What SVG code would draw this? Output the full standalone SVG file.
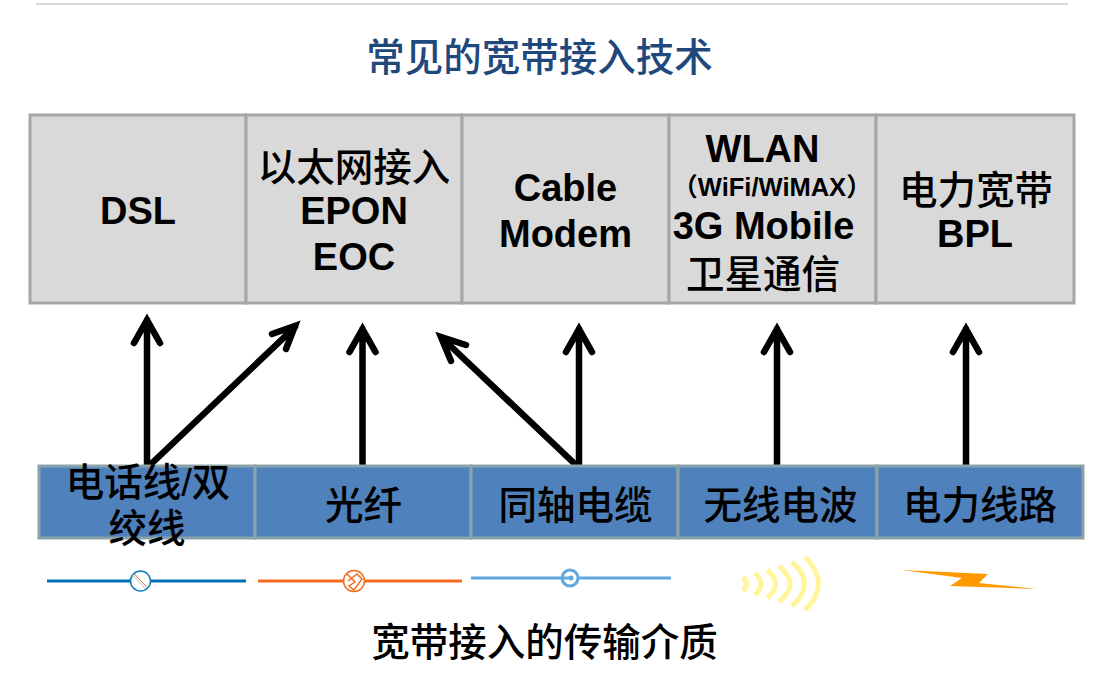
<svg xmlns="http://www.w3.org/2000/svg" width="1115" height="694" viewBox="0 0 1115 694">
<style>
text{font-family:"Liberation Sans","Noto Sans CJK SC",sans-serif;text-anchor:middle;fill:#000}
.t{font-size:38px;font-weight:bold}
.c{font-size:38.5px;font-weight:500}
.m{font-size:38.5px;font-weight:500}
.h{font-size:38.5px;font-weight:500}
.top{fill:#d9d9d9;stroke:#a6a6a6;stroke-width:3}
.bot{fill:#4f81bd;stroke:#8ba3a8;stroke-width:3}
.a{fill:none;stroke:#000;stroke-width:6.5;stroke-linecap:round;stroke-linejoin:miter}
</style>
<rect width="1115" height="694" fill="#fff"/>
<line x1="36" y1="4" x2="1068" y2="4" stroke="#d9d9d9" stroke-width="2"/>
<text class="h" x="539.500" y="71" style="fill:#1f497d">常见的宽带接入技术</text>
<g id="box-dsl"><rect class="top" x="30" y="115" width="216" height="188"/><text class="t" x="138" y="224">DSL</text></g>
<g id="box-ethernet"><rect class="top" x="246" y="115" width="216" height="188"/><text class="c" x="354" y="181">以太网接入</text><text class="t" x="354" y="224">EPON</text><text class="t" x="354" y="270">EOC</text></g>
<g id="box-cable"><rect class="top" x="462" y="115" width="207" height="188"/><text class="t" x="565.500" y="201">Cable</text><text class="t" x="565.500" y="247">Modem</text></g>
<g id="box-wireless"><rect class="top" x="669" y="115" width="207" height="188"/><text class="t" x="762.500" y="162">WLAN</text><text x="772" y="196" style="font-size:25.500px;font-weight:bold">（WiFi/WiMAX）</text><text class="t" x="763.500" y="239">3G Mobile</text><text class="c" x="763" y="288">卫星通信</text></g>
<g id="box-bpl"><rect class="top" x="876" y="115" width="198" height="188"/><text class="c" x="976" y="204">电力宽带</text><text class="t" x="975" y="247">BPL</text></g>
<g id="connectors">
<path class="a" d="M147 466V320M134 343L147 320L160 343"/>
<path class="a" d="M149 466L295 327M272 334L295 326L286 349"/>
<path class="a" d="M577 466L442 338M451 361L441 337L466 345"/>
<path class="a" d="M362.500 466V329M349.500 352L362.500 329L375.500 352"/>
<path class="a" d="M579 466V329M566 352L579 329L592 352"/>
<path class="a" d="M777 466V329M764 352L777 329L790 352"/>
<path class="a" d="M966 466V329M953 352L966 329L979 352"/>
</g>
<g id="media-phone"><rect class="bot" x="39" y="466" width="216" height="72"/><text class="m" x="148" y="496">电话线/双</text><text class="m" x="147" y="542">绞线</text></g>
<g id="media-fiber"><rect class="bot" x="255" y="466" width="216" height="72"/><text class="m" x="363.500" y="519">光纤</text></g>
<g id="media-coax"><rect class="bot" x="471" y="466" width="207" height="72"/><text class="m" x="575.500" y="519">同轴电缆</text></g>
<g id="media-radio"><rect class="bot" x="678" y="466" width="199" height="72"/><text class="m" x="780.500" y="519">无线电波</text></g>
<g id="media-power"><rect class="bot" x="877" y="466" width="206" height="72"/><text class="m" x="980" y="519">电力线路</text></g>
<g id="icon-dsl"><line x1="47" y1="581" x2="246" y2="581" stroke="#0070b0" stroke-width="3"/><circle cx="140.500" cy="581" r="10" fill="#fff" stroke="#0f7dba" stroke-width="1.500"/><line x1="134.500" y1="574" x2="146.500" y2="587" stroke="#e2703a" stroke-width="1"/><line x1="133" y1="575.500" x2="145" y2="588.500" stroke="#b9c4cc" stroke-width="1"/></g>
<g id="icon-fiber"><line x1="258" y1="581" x2="462" y2="581" stroke="#f26b21" stroke-width="3"/><circle cx="354" cy="581" r="10.500" fill="#fff" stroke="#f26b21" stroke-width="1.500"/><path d="M347 574L355 582L349 586L354 590L362 579L357 574L348 581" fill="none" stroke="#f26b21" stroke-width="1.500"/></g>
<g id="icon-coax"><line x1="471" y1="578" x2="671" y2="578" stroke="#5fa8e0" stroke-width="3"/><circle cx="570" cy="578" r="8" fill="#fff" stroke="#5fa8e0" stroke-width="3"/><line x1="561" y1="578" x2="571" y2="578" stroke="#5fa8e0" stroke-width="3"/><circle cx="571" cy="578" r="2.500" fill="#5fa8e0"/></g>
<g id="icon-wave" fill="none" stroke="#fff59d" stroke-width="5"><path d="M743 577Q750 584 743 591"/><path d="M755 573Q767 584 755 595"/><path d="M767 570Q784 584 767 598"/><path d="M779 566Q801 584 779 602"/><path d="M792 562Q817 584 792 606"/><path d="M805 557Q832 584 805 610"/></g>
<g id="icon-bolt"><polygon points="902,570 988,574 979,583 1037,589 950,586 962,578" fill="#ff9900"/></g>
<text class="h" x="544.500" y="656">宽带接入的传输介质</text>
</svg>
